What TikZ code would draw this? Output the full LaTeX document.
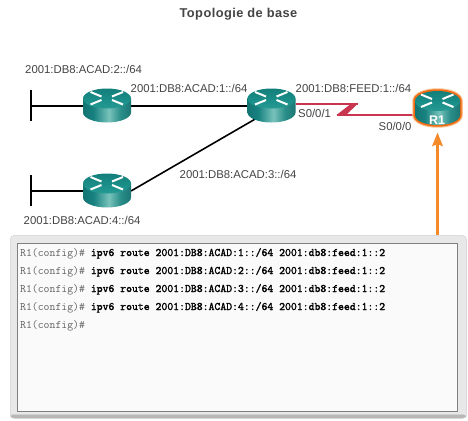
\documentclass[tikz,border=0pt]{standalone}
\usepackage{fontspec}
\setmainfont{Liberation Sans}
\newfontfamily\termfont{Latin Modern Mono}
\newfontfamily\termbold[FakeBold=1.8]{Latin Modern Mono}
\usetikzlibrary{arrows.meta,calc}
\definecolor{labelgray}{HTML}{444444}
\definecolor{serialred}{HTML}{C9354F}
\definecolor{orangeline}{HTML}{F58A2A}
\definecolor{glow}{HTML}{F26A12}
\definecolor{glowsoft}{HTML}{FBC08C}
\definecolor{rsa}{HTML}{0A5554}
\definecolor{rsb}{HTML}{178280}
\definecolor{rsc}{HTML}{78C2BB}
\definecolor{rsd}{HTML}{2A8E89}
\definecolor{rse}{HTML}{0A5A5A}
\definecolor{rsf}{HTML}{053F40}
\definecolor{rta}{HTML}{33A8A0}
\definecolor{rtb}{HTML}{1B8F89}
\definecolor{rtc}{HTML}{0C716E}
\pgfdeclarehorizontalshading{routerside}{100bp}{color(0bp)=(rsa); color(36bp)=(rsb); color(52bp)=(rsc); color(64bp)=(rsd); color(88bp)=(rse); color(100bp)=(rsf)}
\pgfdeclareverticalshading{routertop}{100bp}{color(0bp)=(rta); color(45bp)=(rtb); color(100bp)=(rtc)}
\tikzset{
  x=1pt,y=-1pt,
  routerbox/.style={minimum width=48pt,minimum height=35pt,inner sep=0pt,outer sep=0pt},
  addr/.style={anchor=base west,inner sep=0pt,text=labelgray,font=\fontsize{11.35}{13}\selectfont},
  eth/.style={draw=black,line width=2pt},
  bar/.style={draw=black,line width=2pt},
  serial/.style={draw=serialred,line width=2pt},
  cross/.style={draw=white,line width=2pt},
  term/.style={anchor=base west,inner sep=0pt,font=\termfont\fontsize{11.43}{13}\selectfont},
}
\newcommand{\cmdline}[1]{\textcolor{black!62}{R1(config)\#} {\termbold\fontsize{11.43}{13}\selectfont ipv6 route 2001:DB8:ACAD:#1::/64 2001:db8:feed:1::2}}
\newcommand{\routerg}[2]{%
  \begin{scope}[shift={(#1.center)}]
    \path[shading=routerside] (-#2,-7.5) -- (-#2,6.5) .. controls (-#2,12) and (-13.25,16.5) .. (0,16.5) .. controls (13.25,16.5) and (#2,12) .. (#2,6.5) -- (#2,-7.5) -- cycle;
    \path[shading=routertop] (0,-7.5) ellipse [x radius=#2,y radius=10];
    \draw[cross] (-16.5,-14) -- (-5.5,-9.5);
    \draw[cross] (16,-14) -- (5,-9.5);
    \draw[cross] (-16.5,-1.5) -- (-5.5,-6);
    \draw[cross] (16,-1.5) -- (5,-6);
  \end{scope}}
\begin{document}
\begin{tikzpicture}
\useasboundingbox (0,0) rectangle (468,420);
\fill[white] (0,0) rectangle (468,420);

\node[anchor=base,inner sep=0pt,text=labelgray,font=\fontsize{12.8}{14}\selectfont\bfseries] (title) at (238.5,18) {\addfontfeature{LetterSpace=3.5}Topologie de base};

% router anchors
\node[routerbox] (ra) at (107,106) {};
\node[routerbox] (rb) at (107,191) {};
\node[routerbox] (rc) at (271.5,106) {};
\node[routerbox] (rd) at (437.5,108.5) {};

% free ends
\coordinate (bara1) at (31,90);
\coordinate (bara2) at (31,121);
\coordinate (barb1) at (31,175);
\coordinate (barb2) at (31,206);
\coordinate (zigA) at (358,104);
\coordinate (zigB) at (337,115);

% connectors
\draw[bar] (bara1) -- (bara2);
\draw[bar] (barb1) -- (barb2);
\draw[eth] (bara1 |- ra.west) -- (ra.west);
\draw[eth] (barb1 |- rb.west) -- (rb.west);
\draw[eth] (ra.east) -- (rc.west);
\draw[draw=black,line width=1.6pt] (rb.east) -- ($(rb.east)!1.1!(rc.south west)$);
\draw[serial] (rc.east |- zigA) -- (zigA);
\draw[serial] (zigB) -- (rd.west |- zigB);
\fill[serialred] ($(zigA)+(0.5,-1)$) -- ($(zigA)+(-6,-1)$) -- ($(zigB)+(-0.5,0)$) -- ($(zigB)+(8,1)$) -- cycle;

% routers
\routerg{ra}{24}
\routerg{rb}{24}
\routerg{rc}{24}
\begin{scope}[shift={(rd.center)}]
  \path[draw=glowsoft,line width=5.5pt,line join=round] (-22.5,-7.5) .. controls (-22.5,-13) and (-13,-17.5) .. (0,-17.5) .. controls (13,-17.5) and (22.5,-13) .. (22.5,-7.5) -- (22.5,6.5) .. controls (22.5,12) and (13,16.5) .. (0,16.5) .. controls (-13,16.5) and (-22.5,12) .. (-22.5,6.5) -- cycle;
  \path[draw=glow,line width=3.4pt,line join=round] (-22.5,-7.5) .. controls (-22.5,-13) and (-13,-17.5) .. (0,-17.5) .. controls (13,-17.5) and (22.5,-13) .. (22.5,-7.5) -- (22.5,6.5) .. controls (22.5,12) and (13,16.5) .. (0,16.5) .. controls (-13,16.5) and (-22.5,12) .. (-22.5,6.5) -- cycle;
\end{scope}
\routerg{rd}{22.5}
\node[anchor=base,inner sep=0pt,text=white,font=\fontsize{12.5}{14}\selectfont\bfseries] (rdname) at (437,124) {R1};

% address labels
\node[addr] (la2) at (25,74) {2001:DB8:ACAD:2::/64};
\node[addr] (la1) at (130.5,92) {2001:DB8:ACAD:1::/64};
\node[addr] (la4) at (23.5,224) {2001:DB8:ACAD:4::/64};
\node[addr] (la3) at (179.5,178) {2001:DB8:ACAD:3::/64};
\node[addr] (lf1) at (295.5,92) {2001:DB8:FEED:1::/64};
\node[addr] (ls1) at (298,117) {S0/0/1};
\node[addr] (ls0) at (378.5,130) {S0/0/0};

% panel
\node[draw=black!14,fill=black!9,rounded corners=4pt,line width=.8pt,minimum width=456pt,minimum height=183pt,inner sep=0pt,anchor=north west] (panel) at (10,235) {};
\fill[black!28,rounded corners=3pt] (10.5,414.5) -- (10.5,418) -- (466,418) -- (466,414.5) -- cycle;
\fill[black!18] (12,413.5) rectangle (464,415);
\node[draw=black!50,fill=white!98!black,line width=1.3pt,minimum width=440pt,minimum height=168pt,inner sep=0pt,anchor=north west] (screen) at (17,243) {};

% orange arrow
\draw[orangeline,line width=3pt,-{Stealth[length=13.5pt,width=10.5pt,inset=2pt]}] (rd.center |- panel.north) -- ($(rd.south)+(0,6.5)$);

% terminal
\node[term] (t1) at (20,256) {\cmdline{1}};
\node[term] (t2) at (20,274) {\cmdline{2}};
\node[term] (t3) at (20,292) {\cmdline{3}};
\node[term] (t4) at (20,310) {\cmdline{4}};
\node[term] (t5) at (20,328) {\textcolor{black!62}{R1(config)\#}};
\end{tikzpicture}
\end{document}
